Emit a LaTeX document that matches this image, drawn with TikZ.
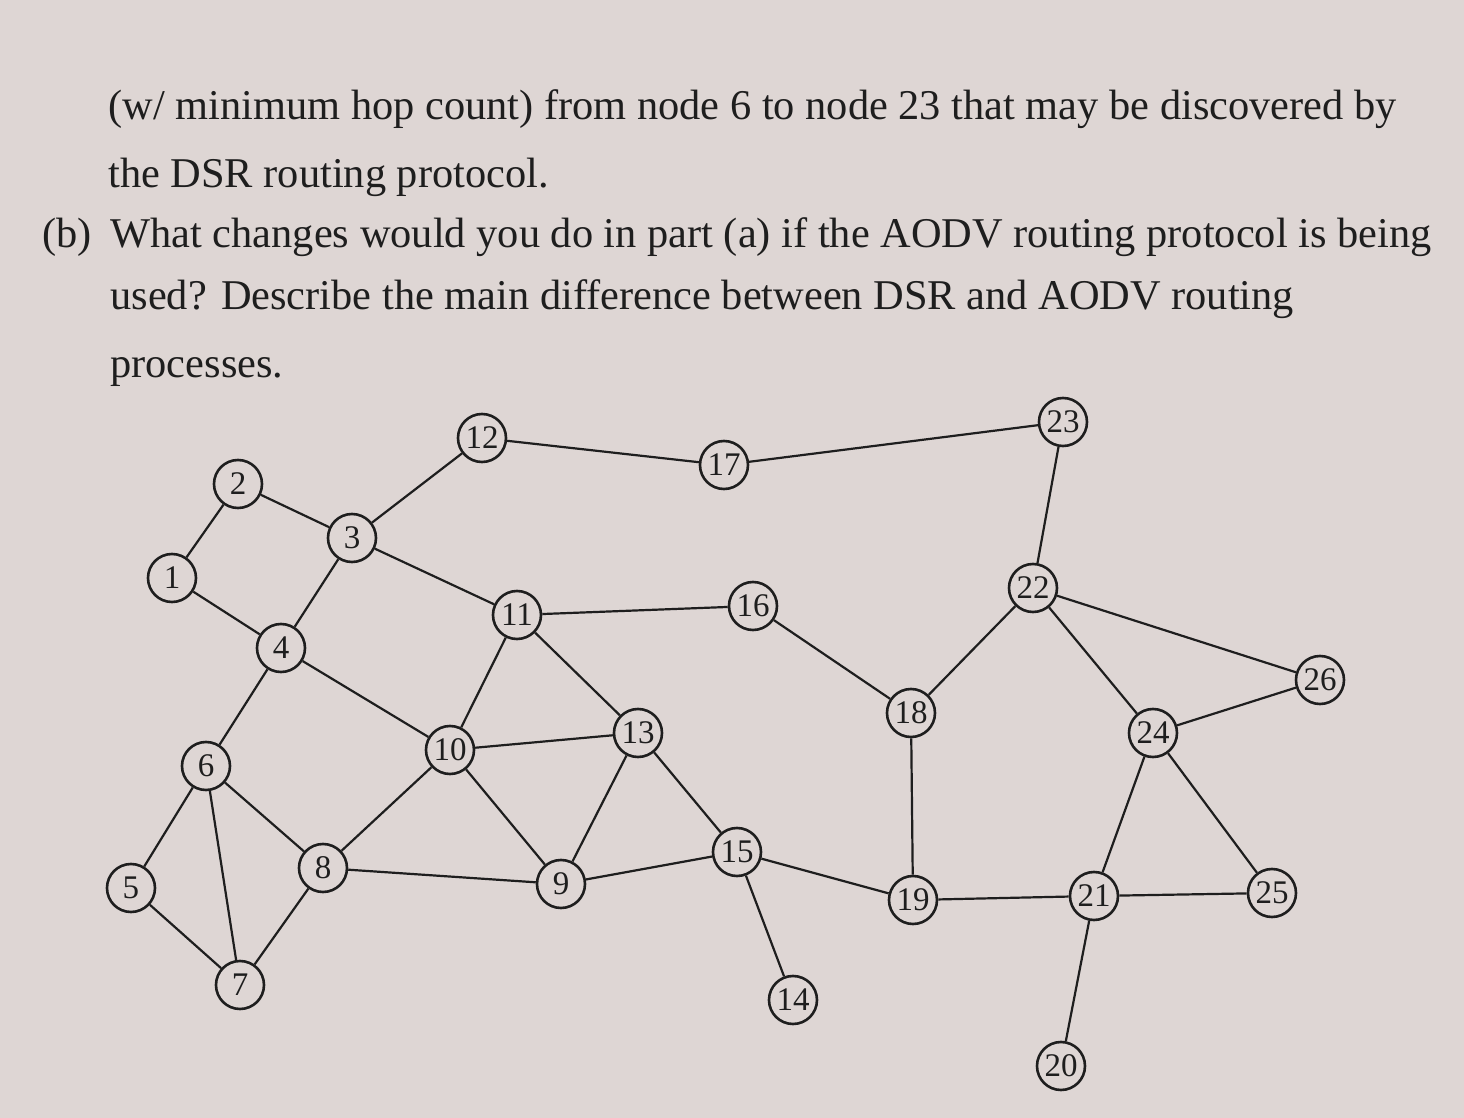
\documentclass[tikz,border=0pt]{standalone}
\usepackage{fontspec}
\setmainfont{Liberation Serif}
\definecolor{paper}{RGB}{222,214,212}
\definecolor{ink}{RGB}{30,30,30}
\begin{document}
\begin{tikzpicture}[x=0.5pt,y=-0.5pt,
  vtx/.style={circle,draw=ink,line width=1.3pt,minimum size=24pt,inner sep=0pt,font=\fontsize{16.5}{16.5}\selectfont,text=ink},
  edge/.style={draw=ink,line width=1.1pt},
  txt/.style={anchor=base west,inner sep=0pt,font=\fontsize{21.2}{24}\selectfont,text=ink}]
\fill[paper] (0,0) rectangle (1464,1118);
\useasboundingbox (0,0) rectangle (1464,1118);
\node[txt] (t1) at (108,120) {(w/ minimum hop count) from node 6 to node 23 that may be discovered by};
\node[txt] (t2) at (108,188) {the DSR routing protocol.};
\node[txt] (t3) at (42,248) {(b)};
\node[txt] (t4) at (110,248) {What changes would you do in part (a) if the AODV routing protocol is being};
\node[txt] (t5) at (110,310) {used? Describe the main difference between DSR and AODV routing};
\node[txt] (t6) at (110,378) {processes.};
\foreach \n/\x/\y in {1/172/578,2/238/484,3/352/538,4/281/648,5/131/888,6/206/766,7/240/985,8/323/868,9/561/884,10/450/750,11/517/615,12/482/438,13/638/733,14/793/1000,15/737/852,16/753/606,17/724/465,18/911/713,19/913/900,20/1061/1066,21/1094/896,22/1033/588,23/1063/422,24/1153/733,25/1272/893,26/1320/680}
  \node[vtx] (n\n) at (\x,\y) {\n};
\foreach \a/\b in {1/2,2/3,1/4,3/4,3/12,3/11,4/6,4/10,6/5,6/7,6/8,5/7,7/8,8/10,8/9,10/11,10/13,10/9,11/16,11/13,12/17,17/23,9/13,9/15,13/15,15/19,15/14,16/18,18/22,18/19,23/22,22/24,22/26,24/26,24/21,24/25,19/21,21/25,21/20}
  \draw[edge] (n\a) -- (n\b);
\end{tikzpicture}
\end{document}
